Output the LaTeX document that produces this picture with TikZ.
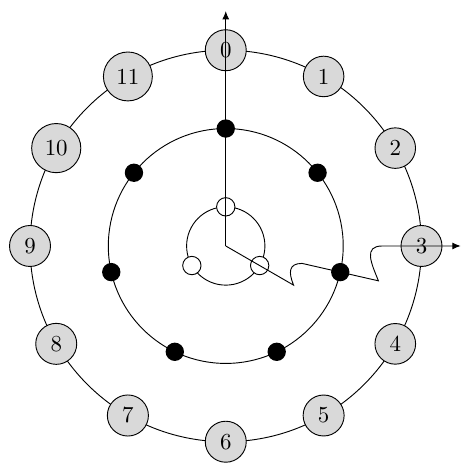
\documentclass[tikz,border=0pt]{standalone}
\usepackage{tikz}
\usetikzlibrary{arrows.meta}
\tikzset{
	hour/.style={circle, draw, fill=black!15},
	bead/.style={circle, fill=black, inner sep=0pt, minimum size=8pt},
	pin/.style={circle, draw, fill=white, inner sep=0pt, minimum size=8pt},
	hand/.style={-{Latex[length=3.6pt, width=3pt]}}
}

\begin{document}
\begin{tikzpicture}
		%%%%% START %%%%%
		\useasboundingbox (-3.46, -3.51) rectangle (3.80, 3.77);
		
		\draw (0, 0) circle (3);
		\draw (0, 0) circle (1.8);
		\draw (0, 0) circle (0.6);
		
		\node[hour] (h0) at (90:3) {0};
		\node[hour] (h1) at (60:3) {1};
		\node[hour] (h2) at (30:3) {2};
		\node[hour] (h3) at (0:3) {3};
		\node[hour] (h4) at (-30:3) {4};
		\node[hour] (h5) at (-60:3) {5};
		\node[hour] (h6) at (-90:3) {6};
		\node[hour] (h7) at (-120:3) {7};
		\node[hour] (h8) at (-150:3) {8};
		\node[hour] (h9) at (180:3) {9};
		\node[hour] (h10) at (150:3) {10};
		\node[hour] (h11) at (120:3) {11};
		
		\node[bead] (m0) at (90:1.8) {};
		\node[bead] (m1) at (38.57:1.8) {};
		\node[bead] (m2) at (-12.86:1.8) {};
		\node[bead] (m3) at (-64.29:1.8) {};
		\node[bead] (m4) at (-115.71:1.8) {};
		\node[bead] (m5) at (-167.14:1.8) {};
		\node[bead] (m6) at (141.43:1.8) {};
		
		\node[pin] (s0) at (90:0.6) {};
		\node[pin] (s1) at (-30:0.6) {};
		\node[pin] (s2) at (210:0.6) {};
		
		% hands
		\coordinate (c) at (0, 0);
		\coordinate (top) at (90:3.6);
		\draw[hand] (c) -- (top);
		
		\coordinate (a1) at (-30:1.2);
		\coordinate (a2) at (-12.86:1.2);
		\coordinate (b1) at (-12.86:2.4);
		\coordinate (b2) at (0:2.4);
		\coordinate (tip) at (0:3.6);
		\draw[hand] (c) -- (a1) to[out=112, in=180, looseness=1.5] (a2) -- (b1) to[out=112, in=180, looseness=1.4] (b2) -- (tip);
		
		%%%%% END %%%%%
\end{tikzpicture}
\end{document}
